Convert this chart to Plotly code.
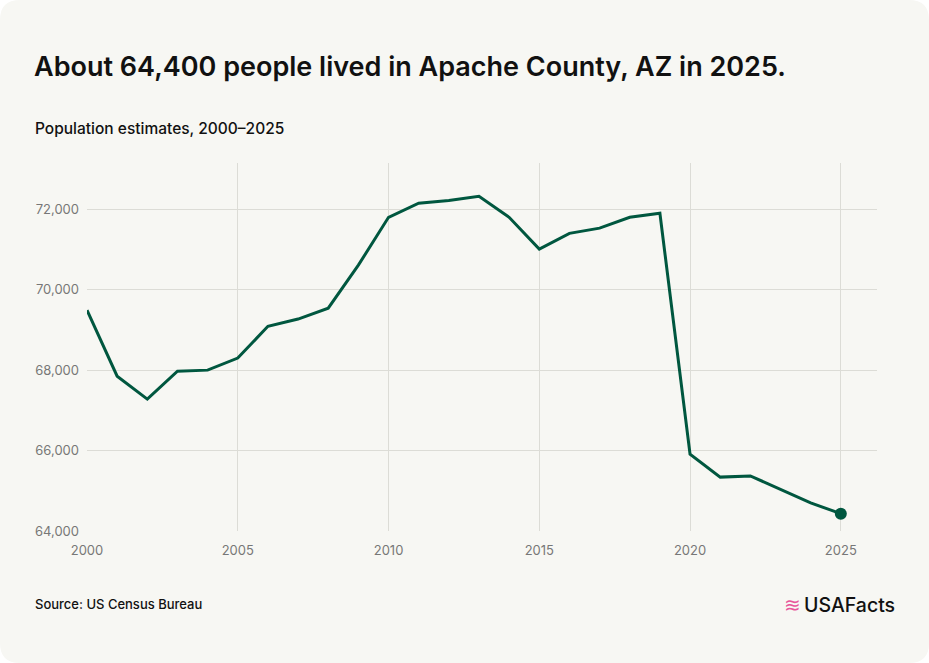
import plotly.graph_objects as go

years = list(range(2000, 2026))
population = [69490, 67850, 67280, 67975, 68000, 68300, 69090, 69270, 69540, 70610,
              71800, 72150, 72220, 72320, 71800, 71010, 71400, 71530, 71800, 71900,
              65910, 65340, 65370, 65040, 64700, 64430]

x_ticks = [2000, 2005, 2010, 2015, 2020, 2025]
y_ticks = [64000, 66000, 68000, 70000, 72000]
y_tick_labels = ["64,000", "66,000", "68,000", "70,000", "72,000"]

W, H = 929, 663
L, R, T, B = 87, 52, 163, 132
pw, ph = W - L - R, H - T - B


def px(x, y):
    # pixel -> paper coords
    return (x - L) / pw, (H - B - y) / ph


def card_path(r=20):
    def p(x, y):
        a, b = px(x, y)
        return f"{a:.5f},{b:.5f}"
    s = f"M{p(r,0)} L{p(W-r,0)} Q{p(W,0)} {p(W,r)} L{p(W,H-r)} Q{p(W,H)} {p(W-r,H)} "
    s += f"L{p(r,H)} Q{p(0,H)} {p(0,H-r)} L{p(0,r)} Q{p(0,0)} {p(r,0)} Z"
    return s


fig = go.Figure()
fig.add_trace(go.Scatter(
    x=years, y=population, mode="lines",
    line=dict(color="#00573f", width=3),
    hoverinfo="skip", showlegend=False))
fig.add_trace(go.Scatter(
    x=[years[-1]], y=[population[-1]], mode="markers",
    marker=dict(color="#00573f", size=12),
    hoverinfo="skip", showlegend=False))

fig.add_shape(type="path", path=card_path(), xref="paper", yref="paper",
              fillcolor="#f7f7f3", line=dict(width=0), layer="below")

font = "Inter, Open Sans, sans-serif"
tx, ty = px(32, 67)
sx, sy = px(33, 128)
qx, qy = px(33, 604)
lx, ly = px(897, 605)
fig.add_annotation(text="About 64,400 people lived in Apache County, AZ in 2025.",
                   x=tx, y=ty, xref="paper", yref="paper", xanchor="left", yanchor="middle",
                   showarrow=False, font=dict(family=font, size=27, color="#111111", weight=600))
fig.add_annotation(text="Population estimates, 2000–2025",
                   x=sx, y=sy, xref="paper", yref="paper", xanchor="left", yanchor="middle",
                   showarrow=False, font=dict(family=font, size=15.5, color="#111111", weight=500))
fig.add_annotation(text="Source: US Census Bureau",
                   x=qx, y=qy, xref="paper", yref="paper", xanchor="left", yanchor="middle",
                   showarrow=False, font=dict(family=font, size=13, color="#111111", weight=500))
fig.add_annotation(text="USAFacts",
                   x=lx, y=ly, xref="paper", yref="paper", xanchor="right", yanchor="middle",
                   showarrow=False, font=dict(family=font, size=19.5, color="#111111", weight=500))
ix, iy = px(792, 605)
fig.add_annotation(text="≋",
                   x=ix, y=iy, xref="paper", yref="paper", xanchor="center", yanchor="middle",
                   showarrow=False, font=dict(family="DejaVu Sans", size=20, color="#e8559b"))

fig.update_xaxes(range=[2000, 2026.2], tickvals=x_ticks, showgrid=True,
                 gridcolor="#dcdcd6", gridwidth=1, zeroline=False, showline=False,
                 ticks="", ticklabelstandoff=10,
                 tickfont=dict(family=font, size=13, color="#777777"))
fig.update_yaxes(range=[64000, 73150], tickvals=y_ticks, ticktext=y_tick_labels,
                 showgrid=True, gridcolor="#dcdcd6", gridwidth=1, zeroline=False,
                 showline=False, ticks="", ticklabelstandoff=7,
                 tickfont=dict(family=font, size=13, color="#777777"))

fig.update_layout(width=W, height=H, margin=dict(l=L, r=R, t=T, b=B),
                  paper_bgcolor="#ffffff", plot_bgcolor="rgba(0,0,0,0)")

fig.write_html("out.html", config={"displayModeBar": False},
               post_script="document.body.style.margin='0';document.body.style.overflow='hidden';")
